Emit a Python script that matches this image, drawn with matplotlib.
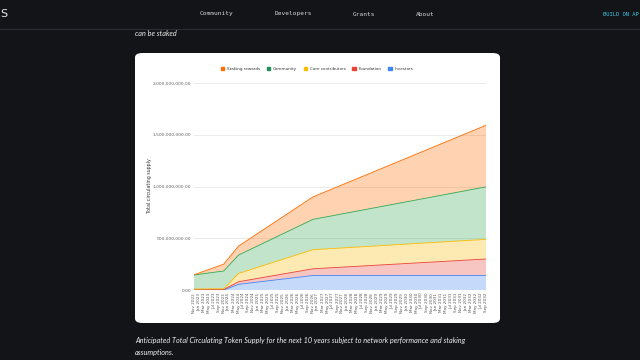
import numpy as np
import pandas as pd
import matplotlib.pyplot as plt
import matplotlib.patches as mpatches
from matplotlib.patches import FancyBboxPatch

# category axis: every 2 months from Nov 2022 to Sep 2032
date_labels = pd.date_range('2022-11-01', '2032-09-01', freq='2MS').strftime('%b %Y').tolist()

# break points of the (piecewise linear) supply curves, as category index
break_idx = [0, 6, 9, 24, 59]

# token amounts at those break points, in millions
investors = [0, 0, 55, 140, 140]
foundation = [2, 5, 25, 65, 160]
core_contrib = [8, 7, 80, 185, 190]
community = [135, 172, 178, 293, 508]
staking = [2, 66, 87, 217, 596]

series_names = ['Investors', 'Foundation', 'Core contributors', 'Community', 'Staking rewards']
series_colors = ['#4285f4', '#ea4335', '#fbbc04', '#34a853', '#ff6d01']

bg = '#121418'
W, H = 640, 360

def fx(px):
    return px / W

def fy(py):
    return 1 - py / H

fig = plt.figure(figsize=(6.4, 3.6), dpi=100)
fig.patch.set_facecolor(bg)

# page header
fig.text(fx(0), fy(14), 'S', color='#e8e8e8', fontsize=8, va='center', ha='left')
nav = [('Community', 216), ('Developers', 293), ('Grants', 364), ('About', 425)]
for label, cx in nav:
    fig.text(fx(cx), fy(14), label, color='#d8d8d8', fontsize=4.4, family='DejaVu Sans Mono',
             ha='center', va='center')
fig.text(fx(639), fy(14), 'BUILD ON AP', color='#38c6e8', fontsize=4.0, family='DejaVu Sans Mono',
         ha='right', va='center')
fig.add_artist(plt.Line2D([0, 1], [fy(29), fy(29)], color='#2a2d33', lw=0.8))

fig.text(fx(135), fy(33), 'can be staked', color='#f0f0f0', fontsize=5.2, style='italic',
         family='Lato', ha='left', va='center')

# white card, kept below the axes
card = FancyBboxPatch((fx(135), fy(323)), fx(500) - fx(135), fy(53) - fy(323),
                      boxstyle='round,pad=0,rounding_size=0.012', transform=fig.transFigure,
                      facecolor='white', edgecolor='none', zorder=-10)
fig.add_artist(card)

ax = fig.add_axes([fx(194), fy(290), fx(486) - fx(194), fy(83.3) - fy(290)])
ax.set_facecolor('white')

vals = np.array([investors, foundation, core_contrib, community, staking], dtype=float) * 1e6
ax.stackplot(break_idx, vals, colors=series_colors, alpha=0.3, linewidth=0)
tops = np.cumsum(vals, axis=0)
for i in range(len(series_names)):
    ax.plot(break_idx, tops[i], color=series_colors[i], lw=0.6)

ax.set_xlim(0, len(date_labels) - 1)
ax.set_ylim(0, 2e9)
ax.set_yticks([0, 5e8, 1e9, 1.5e9, 2e9])
ax.set_yticklabels(['0.00', '500,000,000.00', '1,000,000,000.00', '1,500,000,000.00',
                    '2,000,000,000.00'], fontsize=3.2, color='#666666')
ax.set_xticks(range(len(date_labels)))
ax.set_xticklabels(date_labels, rotation=90, fontsize=3.0, color='#555555')
ax.tick_params(length=0, pad=2)
ax.grid(axis='y', color='#e6e6e6', lw=0.6)
ax.set_axisbelow(True)
for s in ax.spines.values():
    s.set_visible(False)
ax.axhline(0, color='#333333', lw=0.5)

fig.text(fx(150), fy(186), 'Total circulating supply', rotation=90, fontsize=3.4,
         color='#333333', ha='center', va='center')

handles = [mpatches.Patch(color=series_colors[i], label=series_names[i]) for i in [4, 3, 2, 1, 0]]
handles[1].set_color('#1e8e5a')
fig.legend(handles=handles, loc='center', bbox_to_anchor=(fx(317), fy(69)), ncol=5,
           frameon=False, fontsize=3.0, handlelength=0.8, handleheight=0.8,
           handletextpad=0.7, columnspacing=1.6, labelcolor='#333333')

fig.text(fx(135), fy(341), 'Anticipated Total Circulating Token Supply for the next 10 years subject '
         'to network performance and staking', color='#f0f0f0', fontsize=5.2, style='italic',
         family='Lato', ha='left', va='center')
fig.text(fx(135), fy(353), 'assumptions.', color='#f0f0f0', fontsize=5.2, style='italic',
         family='Lato', ha='left', va='center')

fig.savefig('out.png', dpi=100, facecolor=bg)
